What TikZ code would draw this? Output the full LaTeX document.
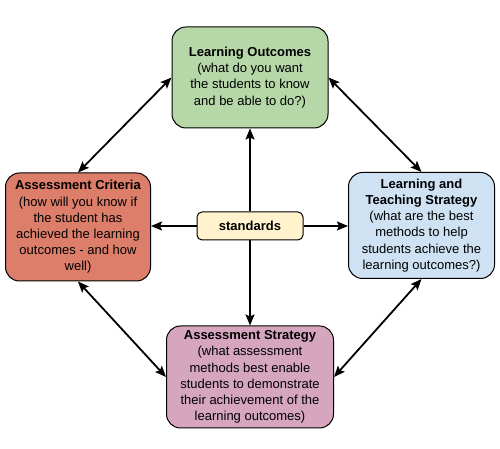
\documentclass[tikz,border=0pt]{standalone}
\usepackage{fontspec}
\setmainfont{Liberation Sans}
\usetikzlibrary{arrows.meta}
\definecolor{cgreen}{HTML}{B6D7A8}
\definecolor{cred}{HTML}{DD7E6B}
\definecolor{cblue}{HTML}{CFE2F3}
\definecolor{cpink}{HTML}{D5A6BD}
\definecolor{cyel}{HTML}{FFF2CC}
\tikzset{
  bigbox/.style={draw=black, line width=1pt, rounded corners=14pt, align=center, inner sep=0pt,
    font=\fontsize{13}{16.2}\selectfont},
  smallbox/.style={draw=black, line width=1pt, rounded corners=5pt, align=center, inner sep=0pt,
    font=\fontsize{13}{15}\selectfont\bfseries, minimum width=106pt, minimum height=28pt, fill=cyel},
  conn/.style={line width=1.8pt, -{Stealth[length=11pt,width=9pt,inset=2pt]}},
  dconn/.style={line width=1.8pt, {Stealth[length=11pt,width=9pt,inset=2pt]}-{Stealth[length=11pt,width=9pt,inset=2pt]}}
}
\begin{document}
\begin{tikzpicture}[x=1pt,y=1pt]
\useasboundingbox (0,0) rectangle (500,449);
\node[bigbox, fill=cgreen, minimum width=156pt, minimum height=101pt] (lo) at (250,371.5)
  {\textbf{Learning Outcomes}\\(what do you want\\the students to know\\and be able to do?)};
\node[bigbox, fill=cred, minimum width=145pt, minimum height=108pt] (ac) at (78,222)
  {\textbf{Assessment Criteria}\\(how will you know if\\the student has\\achieved the learning\\outcomes - and how\\well)};
\node[bigbox, fill=cblue, minimum width=146pt, minimum height=106pt] (lt) at (421.5,223.5)
  {\textbf{Learning and}\\\textbf{Teaching Strategy}\\(what are the best\\methods to help\\students achieve the\\learning outcomes?)};
\node[bigbox, fill=cpink, minimum width=167pt, minimum height=102pt] (as) at (250,72)
  {\textbf{Assessment Strategy}\\(what assessment\\methods best enable\\students to demonstrate\\their achievement of the\\learning outcomes)};
\node[smallbox] (st) at (250,223) {standards};
\draw[conn] (st.north) -- (st.north |- lo.south);
\draw[conn] (st.south) -- (st.south |- as.north);
\draw[conn] (st.west) -- (st.west -| ac.east);
\draw[conn] (st.east) -- (st.east -| lt.west);
\draw[dconn] (ac.north) -- (lo.west);
\draw[dconn] (lo.east) -- (lt.north);
\draw[dconn] (ac.south) -- (as.west);
\draw[dconn] (lt.south) -- (as.east);
\end{tikzpicture}
\end{document}
